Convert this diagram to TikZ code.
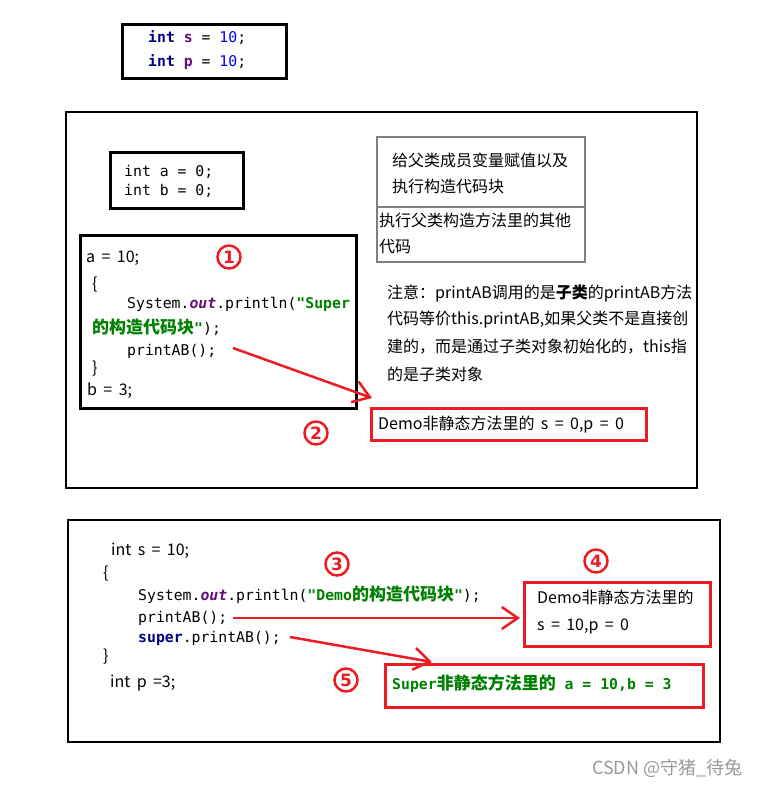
\documentclass[tikz,border=0pt]{standalone}
\usepackage{fontspec}
\setmainfont{Noto Sans CJK SC}
\newfontfamily\cjk{Noto Sans CJK SC}
\newfontfamily\mono{DejaVu Sans Mono}
\newfontfamily\numfont{DejaVu Sans}
\usetikzlibrary{arrows.meta}
\definecolor{kw}{HTML}{000080}
\definecolor{fld}{HTML}{660E7A}
\definecolor{num}{HTML}{0000FF}
\definecolor{str}{HTML}{008000}
\definecolor{rd}{HTML}{ED1C24}
\newcommand{\ms}{\mono\fontsize{14.8}{17}\selectfont}
\newcommand{\cs}{\cjk\fontsize{16}{19}\selectfont\spaceskip=0.4em plus 0.1em\relax}
\newcommand{\cb}[1]{{\cjk\bfseries\fontsize{17}{19}\selectfont #1}}
\begin{document}
\begin{tikzpicture}[x=1pt,y=-1pt,
  blk/.style={draw=black,line width=3pt},
  outer/.style={draw=black,line width=2.5pt},
  redbox/.style={draw=rd,line width=3pt},
  greybox/.style={draw=black!50,line width=1.2pt},
  code/.style={anchor=base west,inner sep=0pt,font=\ms},
  txt/.style={anchor=base west,inner sep=0pt,font=\cs},
  num/.style={circle,draw=rd,line width=2.5pt,minimum size=23pt,inner sep=0pt,
    text=rd,font=\numfont\bfseries\fontsize{17}{17}\selectfont},
  arr/.style={draw=rd,line width=2.5pt,-{Straight Barb[length=16pt,width=22pt,line width=2.5pt]}}]
\useasboundingbox (0,0) rectangle (763,785);
\fill[white] (0,0) rectangle (763,785);

% top box
\draw[blk] (122,24) rectangle (286,78);
\node[code] (t1) at (148,42) {\textcolor{kw}{\bfseries int} \textcolor{fld}{\bfseries s} = \textcolor{num}{10};};
\node[code] (t2) at (148,66) {\textcolor{kw}{\bfseries int} \textcolor{fld}{\bfseries p} = \textcolor{num}{10};};

% outer box 1
\draw[outer] (66,112) rectangle (697,488);
\draw[blk] (110,152) rectangle (243,208);
\node[code] (ia) at (124,176) {int a = 0;};
\node[code] (ib) at (124,195) {int b = 0;};

\draw[greybox] (377,137) rectangle (585,262);
\draw[greybox] (377,207) -- (585,207);
\node[txt] (g1) at (392,166) {给父类成员变量赋值以及};
\node[txt] (g2) at (392,192) {执行构造代码块};
\node[txt] (g3) at (379,226) {执行父类构造方法里的其他};
\node[txt] (g4) at (379,252) {代码};

\draw[blk] (80,235) rectangle (356,408);
\node[txt] (c1) at (86,262) {a = 10;};
\node[txt] (c2) at (92,289) {\{};
\node[code] (c3) at (127,308) {System.\textcolor{fld}{\bfseries\itshape out}.println(\textcolor{str}{\bfseries "Super}};
\node[code] (c4) at (92,333) {\textcolor{str}{\cb{的构造代码块}\bfseries "});};
\node[code] (c5) at (127,355) {printAB();};
\node[txt] (c6) at (92,373) {\}};
\node[txt] (c7) at (87,395) {b = 3;};
\node[num] (n1) at (229,257) {1};

\node[txt] (note1) at (387,298) {注意：printAB调用的是\textbf{子类}的printAB方法};
\node[txt] (note2) at (387,324) {代码等价this.printAB,如果父类不是直接创};
\node[txt] (note3) at (387,352) {建的，而是通过子类对象初始化的，this指};
\node[txt] (note4) at (387,380) {的是子类对象};

\draw[redbox] (371,408) rectangle (646,440);
\node[txt] (r2) at (378,429) {Demo非静态方法里的 s = 0,p = 0};
\node[num] (n2) at (316,433) {2};

\coordinate (a1s) at (233,348);
\coordinate (a1e) at (372,398);
\draw[arr] (a1s) -- (a1e);

% outer box 2
\draw[outer] (68,520) rectangle (720,742);
\node[txt] (d1) at (111,555) {int s = 10;};
\node[txt] (d2) at (103,578) {\{};
\node[code] (d3) at (138,600) {System.\textcolor{fld}{\bfseries\itshape out}.println(\textcolor{str}{\bfseries "Demo\cb{的构造代码块}"});};
\node[code] (d4) at (138,622) {printAB();};
\node[code] (d5) at (138,642) {\textcolor{kw}{\bfseries super}.printAB();};
\node[txt] (d6) at (103,661) {\}};
\node[txt] (d7) at (110,687) {int p =3;};
\node[num] (n3) at (337,564) {3};
\node[num] (n4) at (596,561) {4};
\node[num] (n5) at (346,680) {5};

\draw[redbox] (524,582) rectangle (710,646);
\node[txt] (b4a) at (537,603) {Demo非静态方法里的};
\node[txt] (b4b) at (537,630) {s = 10,p = 0};

\draw[redbox] (385,664) rectangle (703,707);
\node[code] (b5) at (392,689) {\textcolor{str}{\bfseries Super\cb{非静态方法里的} a = 10,b = 3}};

\coordinate (a2s) at (233,618);
\coordinate (a2e) at (520,618);
\draw[arr] (a2s) -- (a2e);
\coordinate (a3s) at (290,637);
\coordinate (a3e) at (432,662);
\draw[arr] (a3s) -- (a3e);

\node[txt,text=black!40,font=\cjk\fontsize{18}{20}\selectfont] (wm) at (592,774) {CSDN @守猪\_待兔};
\end{tikzpicture}
\end{document}
